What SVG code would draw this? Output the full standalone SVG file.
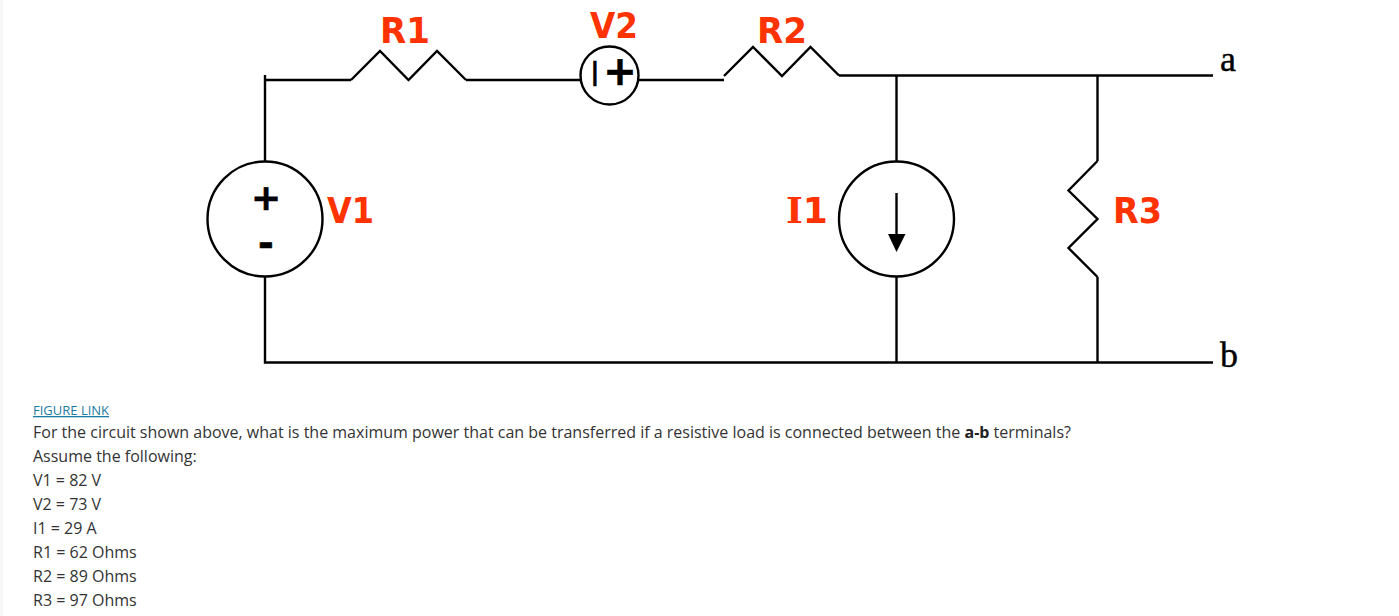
<svg xmlns="http://www.w3.org/2000/svg" width="1399" height="616" viewBox="0 0 1399 616">
<style>
.w{fill:none;stroke:#000;stroke-width:2.4;stroke-linejoin:miter}
.c{fill:#fff;stroke:#000;stroke-width:2.4}
.l{font-family:"DejaVu Sans",sans-serif;font-weight:700;font-size:36px;fill:#ff3300}
.s{font-family:"DejaVu Sans",sans-serif;font-weight:700;fill:#000;stroke:#000;stroke-width:.6;text-anchor:middle}
.t{font-family:"Open Sans","Noto Sans",sans-serif;font-size:16px;fill:#333}
.n{font-family:"Liberation Serif",serif;font-size:36px;fill:#000;stroke:#000;stroke-width:.4}
</style>
<rect width="1399" height="616" fill="#fff"/>
<rect width="3" height="616" fill="#f7f7f7"/>
<g id="connectors">
<path class="w" d="M265 161V75"/>
<path class="w" d="M265 80H351"/>
<path class="w" d="M466 80H580"/>
<path class="w" d="M639 80H724"/>
<path class="w" d="M839 75.500H1213"/>
<path class="w" d="M896.500 75.500V161"/>
<path class="w" d="M1097.500 75.500V161"/>
<path class="w" d="M265 277V362.500H1213"/>
<path class="w" d="M896.500 277V362.500"/>
<path class="w" d="M1097.500 277V362.500"/>
</g>
<g id="V1"><circle class="c" cx="265" cy="219" r="57.500"/>
<text class="s" x="266" y="210" font-size="36">+</text>
<text class="s" x="266" y="256" font-size="38">-</text>
<text class="l" x="327" y="223" textLength="47" lengthAdjust="spacingAndGlyphs">V1</text></g>
<g id="R1"><path class="w" d="M351 80L380 51L408.500 80L437 51L466 80"/>
<text class="l" x="380" y="43" textLength="50" lengthAdjust="spacingAndGlyphs">R1</text></g>
<g id="V2"><circle class="c" cx="609.500" cy="75.500" r="29"/>
<text class="s" x="595" y="80" font-size="24">|</text>
<text class="s" x="620" y="85" font-size="40">+</text>
<text class="l" x="590" y="38" textLength="48" lengthAdjust="spacingAndGlyphs">V2</text></g>
<g id="R2"><path class="w" d="M724 76L753 47L782 76L810.500 47L839 75.500"/>
<text class="l" x="757" y="43" textLength="50" lengthAdjust="spacingAndGlyphs">R2</text></g>
<g id="I1"><circle class="c" cx="896.500" cy="219" r="57.500"/>
<path class="w" d="M896.500 193V236"/>
<path d="M888 234H905.500L896.500 252Z" fill="#000"/>
<text class="l" x="786" y="223"><tspan style="font-family:'DejaVu Serif',serif">I</tspan>1</text></g>
<g id="R3"><path class="w" d="M1097.500 161L1068.500 190.500L1097.500 219L1068.500 248L1097.500 277"/>
<text class="l" x="1113" y="223" textLength="49" lengthAdjust="spacingAndGlyphs">R3</text></g>
<g id="a"><text class="n" x="1220" y="71">a</text></g>
<g id="b"><text class="n" x="1220" y="367">b</text></g>
<g id="question">
<text x="33" y="415" font-family="Open Sans,Noto Sans,sans-serif" font-size="13" fill="#1d7ba3" text-decoration="underline">FIGURE LINK</text>
<text class="t" x="33" y="438">For the circuit shown above, what is the maximum power that can be transferred if a resistive load is connected between the <tspan font-weight="700" fill="#222">a-b</tspan> terminals?</text>
<text class="t" x="33" y="462">Assume the following:</text>
<text class="t" x="33" y="486">V1 = 82 V</text>
<text class="t" x="33" y="510">V2 = 73 V</text>
<text class="t" x="33" y="534">I1 = 29 A</text>
<text class="t" x="33" y="558">R1 = 62 Ohms</text>
<text class="t" x="33" y="582">R2 = 89 Ohms</text>
<text class="t" x="33" y="606">R3 = 97 Ohms</text>
</g>
</svg>
